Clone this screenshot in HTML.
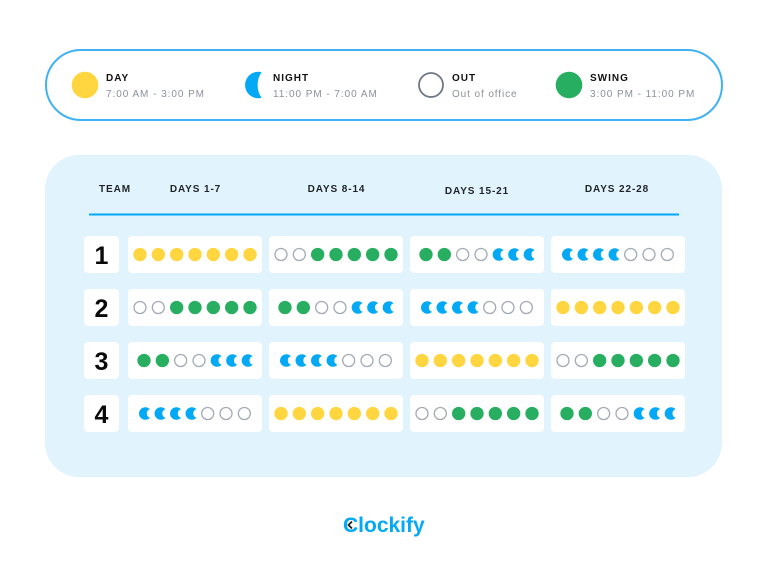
<!DOCTYPE html>
<html><head><meta charset="utf-8"><style>
html,body{margin:0;padding:0;background:#fff;}
svg{display:block;}
text{font-family:"Liberation Sans",Arial,sans-serif;}
</style></head><body>
<svg width="768" height="566" viewBox="0 0 768 566" xmlns="http://www.w3.org/2000/svg">
<defs>
  <circle id="Y" r="6.67" fill="#FFD540"/>
  <circle id="G" r="6.67" fill="#27AE60"/>
  <circle id="O" r="6.0" fill="none" stroke="#A3AAB4" stroke-width="1.3"/>
  <path id="N" d="M4.7,-4.2 A6.3,6.3 0 1 0 4.7,4.2 A4.36,4.36 0 0 1 4.7,-4.2Z" fill="#03A9F4"/>
  <g id="pY"><use href="#Y" x="6.67"/><use href="#Y" x="25"/><use href="#Y" x="43.33"/><use href="#Y" x="61.67"/><use href="#Y" x="80"/><use href="#Y" x="98.33"/><use href="#Y" x="116.67"/></g>
  <g id="pOG"><use href="#O" x="6.67"/><use href="#O" x="25"/><use href="#G" x="43.33"/><use href="#G" x="61.67"/><use href="#G" x="80"/><use href="#G" x="98.33"/><use href="#G" x="116.67"/></g>
  <g id="pGN"><use href="#G" x="6.67"/><use href="#G" x="25"/><use href="#O" x="43.33"/><use href="#O" x="61.67"/><use href="#N" x="79.63"/><use href="#N" x="95.13"/><use href="#N" x="110.63"/></g>
  <g id="pNO"><use href="#N" x="6.3"/><use href="#N" x="21.8"/><use href="#N" x="37.3"/><use href="#N" x="52.8"/><use href="#O" x="68.67"/><use href="#O" x="87"/><use href="#O" x="105.33"/></g>
</defs>

<!-- Legend pill -->
<rect x="46" y="50" width="676" height="70" rx="35" ry="35" fill="#fff" stroke="#3FB2F2" stroke-width="2"/>
<circle cx="85" cy="85" r="13.3" fill="#FFD540"/>
<text x="106" y="81" font-size="10" font-weight="bold" letter-spacing="1" fill="#111">DAY</text>
<text x="106" y="97" font-size="10" letter-spacing="0.95" fill="#8A909A">7:00 AM - 3:00 PM</text>

<path d="M261.6,72.1 A13.3,13.3 0 1 0 261.6,97.9 A22.8,22.8 0 0 1 261.6,72.1Z" fill="#03A9F4"/>
<text x="273" y="81" font-size="10" font-weight="bold" letter-spacing="1" fill="#111">NIGHT</text>
<text x="273" y="97" font-size="10" letter-spacing="0.95" fill="#8A909A">11:00 PM - 7:00 AM</text>

<circle cx="431" cy="85" r="12" fill="none" stroke="#6F7785" stroke-width="1.8"/>
<text x="452" y="81" font-size="10" font-weight="bold" letter-spacing="1" fill="#111">OUT</text>
<text x="452" y="97" font-size="10" letter-spacing="0.9" fill="#8A909A">Out of office</text>

<circle cx="569" cy="85" r="13.3" fill="#27AE60"/>
<text x="590" y="81" font-size="10" font-weight="bold" letter-spacing="1" fill="#111">SWING</text>
<text x="590" y="97" font-size="10" letter-spacing="0.95" fill="#8A909A">3:00 PM - 11:00 PM</text>

<!-- Panel -->
<rect x="45" y="155" width="677" height="322" rx="34" ry="34" fill="#E1F3FC"/>
<text x="99" y="192" font-size="10" font-weight="bold" letter-spacing="0.9" fill="#1F2328">TEAM</text>
<text x="195.5" y="192" font-size="10" font-weight="bold" letter-spacing="0.9" fill="#1F2328" text-anchor="middle">DAYS 1-7</text>
<text x="336.5" y="192" font-size="10" font-weight="bold" letter-spacing="0.9" fill="#1F2328" text-anchor="middle">DAYS 8-14</text>
<text x="477" y="194" font-size="10" font-weight="bold" letter-spacing="0.9" fill="#1F2328" text-anchor="middle">DAYS 15-21</text>
<text x="617" y="192" font-size="10" font-weight="bold" letter-spacing="0.9" fill="#1F2328" text-anchor="middle">DAYS 22-28</text>
<rect x="89" y="213.5" width="590" height="2" fill="#03A9F4"/>

<!-- Row cells -->
<g fill="#fff">
  <rect x="84" y="236" width="35" height="37" rx="4"/>
  <rect x="128" y="236" width="134" height="37" rx="4"/>
  <rect x="269" y="236" width="134" height="37" rx="4"/>
  <rect x="410" y="236" width="134" height="37" rx="4"/>
  <rect x="551" y="236" width="134" height="37" rx="4"/>

  <rect x="84" y="289" width="35" height="37" rx="4"/>
  <rect x="128" y="289" width="134" height="37" rx="4"/>
  <rect x="269" y="289" width="134" height="37" rx="4"/>
  <rect x="410" y="289" width="134" height="37" rx="4"/>
  <rect x="551" y="289" width="134" height="37" rx="4"/>

  <rect x="84" y="342" width="35" height="37" rx="4"/>
  <rect x="128" y="342" width="134" height="37" rx="4"/>
  <rect x="269" y="342" width="134" height="37" rx="4"/>
  <rect x="410" y="342" width="134" height="37" rx="4"/>
  <rect x="551" y="342" width="134" height="37" rx="4"/>

  <rect x="84" y="395" width="35" height="37" rx="4"/>
  <rect x="128" y="395" width="134" height="37" rx="4"/>
  <rect x="269" y="395" width="134" height="37" rx="4"/>
  <rect x="410" y="395" width="134" height="37" rx="4"/>
  <rect x="551" y="395" width="134" height="37" rx="4"/>
</g>

<g font-size="25" font-weight="bold" fill="#0A0A0A" text-anchor="middle">
  <text x="101.5" y="264">1</text>
  <text x="101.5" y="317">2</text>
  <text x="101.5" y="370">3</text>
  <text x="101.5" y="423">4</text>
</g>

<!-- Dots: Y/OG offset -61.67, GN -57.67, NO -56 from cell centers 195,336,477,618 -->
<use href="#pY"  transform="translate(133.33,254.5)"/>
<use href="#pOG" transform="translate(274.33,254.5)"/>
<use href="#pGN" transform="translate(419.33,254.5)"/>
<use href="#pNO" transform="translate(562,254.5)"/>

<use href="#pOG" transform="translate(133.33,307.5)"/>
<use href="#pGN" transform="translate(278.33,307.5)"/>
<use href="#pNO" transform="translate(421,307.5)"/>
<use href="#pY"  transform="translate(556.33,307.5)"/>

<use href="#pGN" transform="translate(137.33,360.5)"/>
<use href="#pNO" transform="translate(280,360.5)"/>
<use href="#pY"  transform="translate(415.33,360.5)"/>
<use href="#pOG" transform="translate(556.33,360.5)"/>

<use href="#pNO" transform="translate(139,413.5)"/>
<use href="#pY"  transform="translate(274.33,413.5)"/>
<use href="#pOG" transform="translate(415.33,413.5)"/>
<use href="#pGN" transform="translate(560.33,413.5)"/>

<!-- Logo -->
<text x="343" y="532" font-size="21" font-weight="bold" fill="#03A9F4">Clockify</text>
<polyline points="352,521.5 348.5,525 352,528.5" fill="none" stroke="#222" stroke-width="1.8"/>
</svg>
</body></html>
